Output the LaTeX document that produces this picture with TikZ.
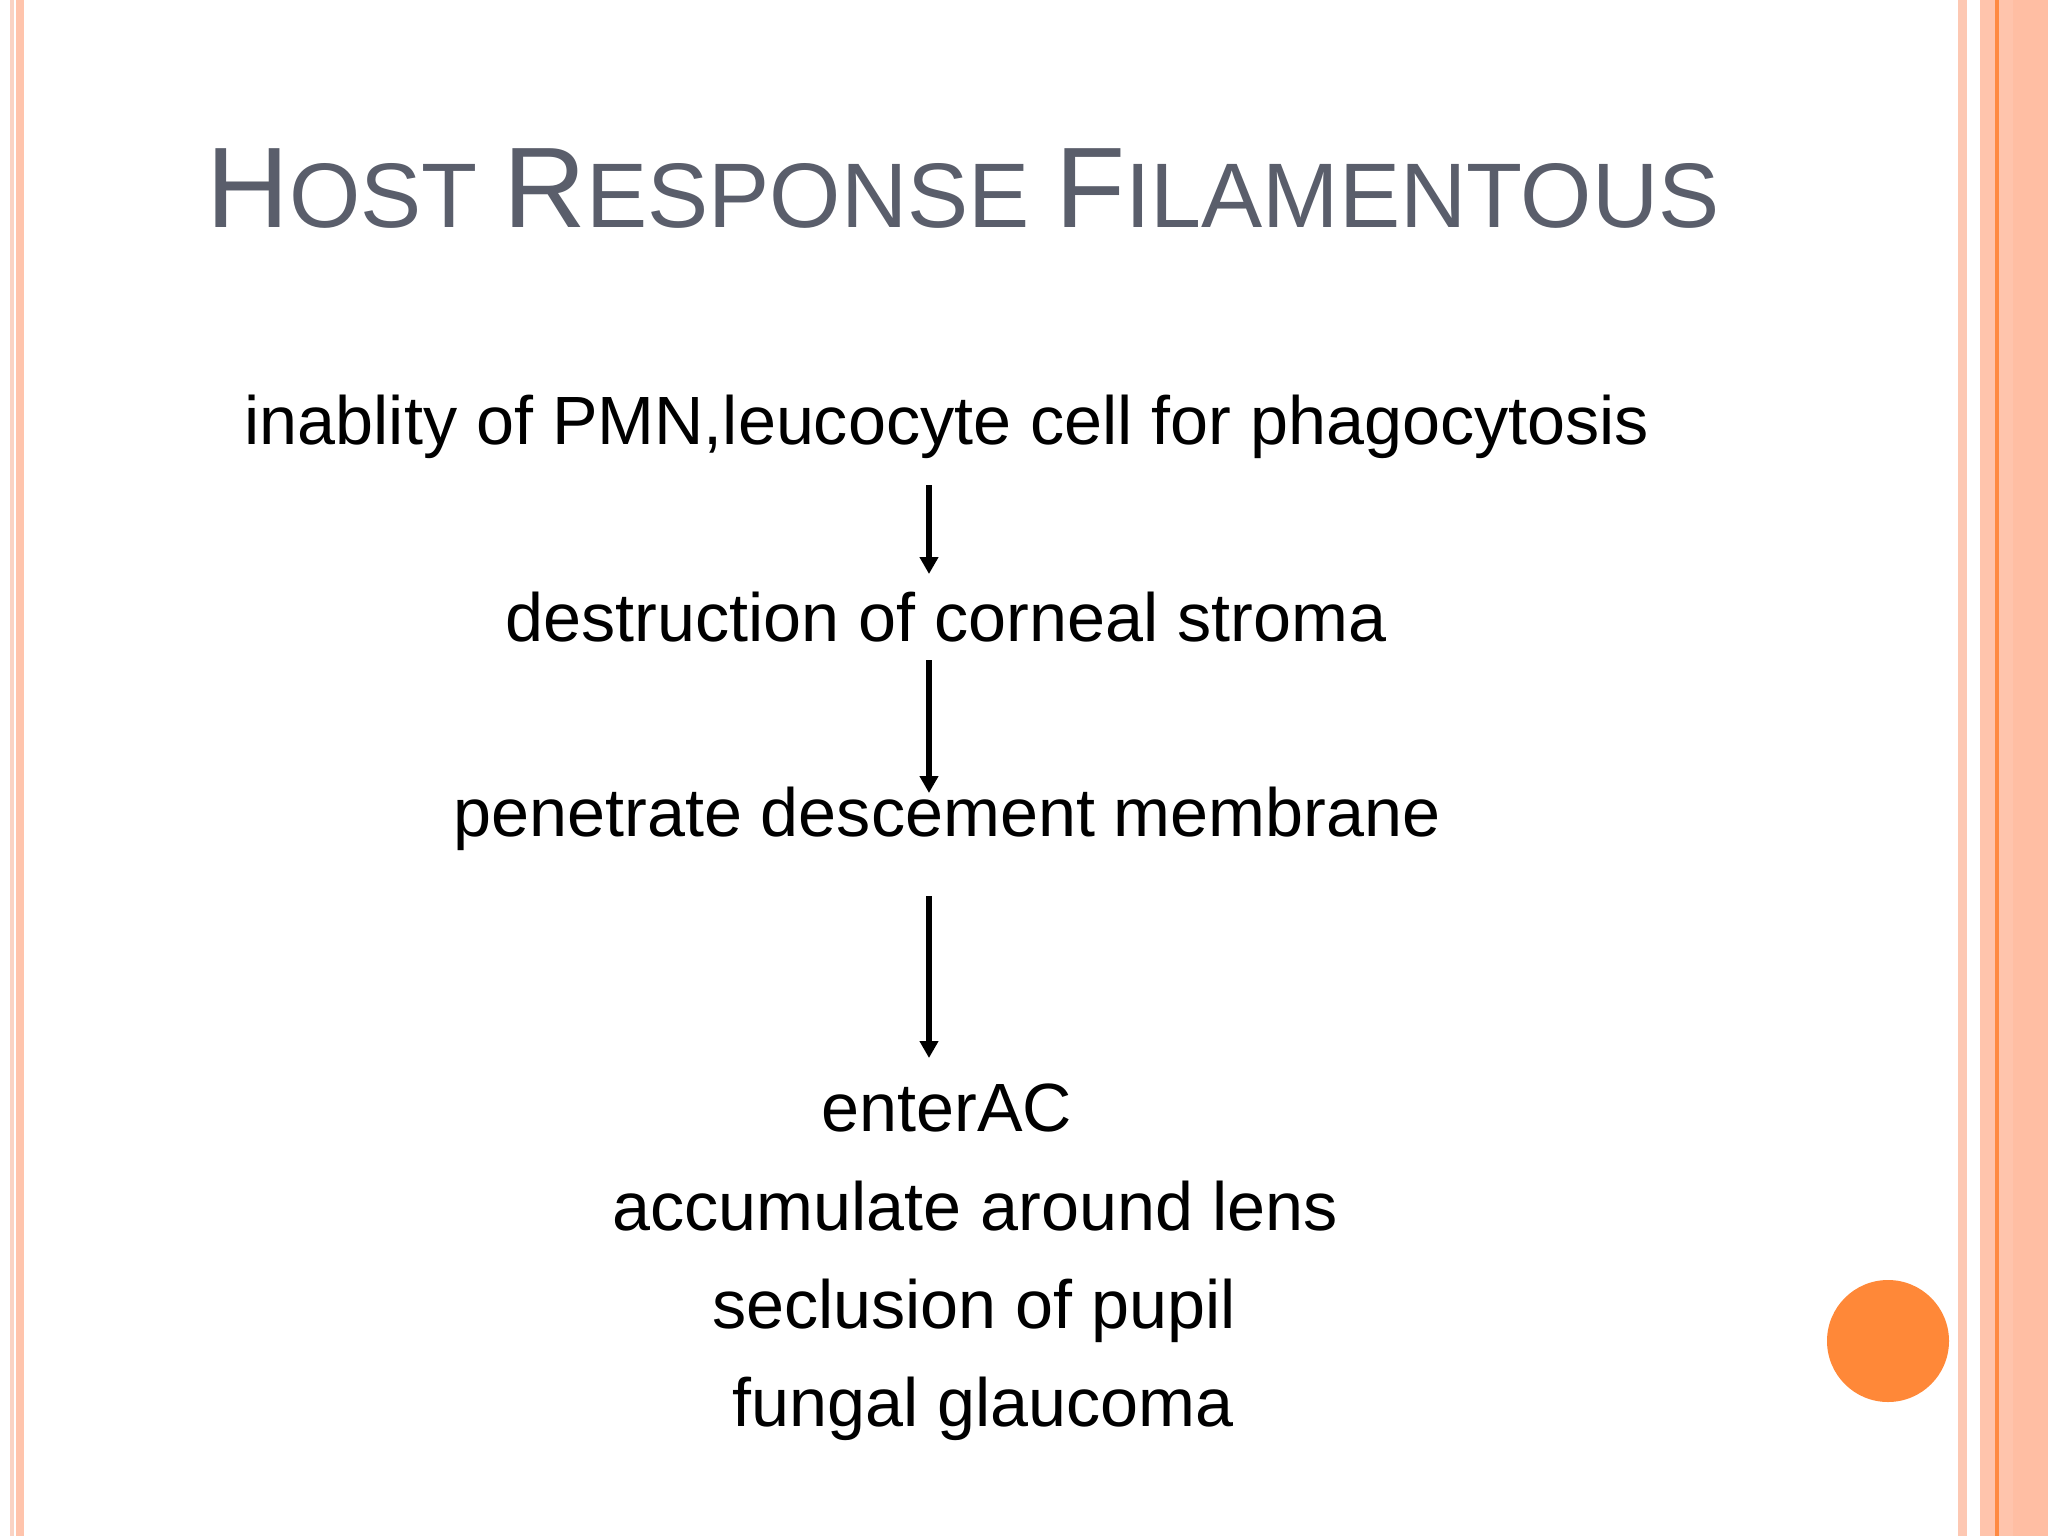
\documentclass[tikz,border=0pt]{standalone}
\usepackage{fontspec}
\setmainfont{Liberation Sans}
\usetikzlibrary{arrows.meta}
\definecolor{titlegray}{RGB}{90,94,107}
\definecolor{peachA}{RGB}{250,211,196}
\definecolor{peachB}{RGB}{255,196,172}
\definecolor{peachC}{RGB}{253,200,179}
\definecolor{peachD}{RGB}{255,190,163}
\definecolor{orangeline}{RGB}{255,138,66}
\definecolor{dotorange}{RGB}{255,136,56}
\newcommand{\ttlbig}[1]{{\fontsize{114.6}{120}\selectfont #1}}
\newcommand{\ttlsmall}[1]{{\fontsize{91.7}{100}\selectfont #1}}
\begin{document}
\begin{tikzpicture}[x=1pt,y=-1pt,
  body/.style={font=\fontsize{68.3}{80}\selectfont, inner sep=0pt, anchor=base, text=black},
  arr/.style={line width=5.5pt, -{Triangle[width=18pt,length=17pt]}}]
\useasboundingbox (0,0) rectangle (2048,1536);
\fill[white] (0,0) rectangle (2048,1536);
% borders
\fill[peachA] (10,0) rectangle (13.5,1536);
\fill[peachB] (16,0) rectangle (24,1536);
\fill[peachC] (1958,0) rectangle (1967,1536);
\fill[peachB] (1980,0) rectangle (2048,1536);
\fill[peachD] (2013,0) rectangle (2048,1536);
\fill[orangeline] (1995,0) rectangle (1999,1536);
\fill[dotorange] (1888,1341) circle (61pt);
% title
\node[anchor=base west, inner sep=0pt, text=titlegray] (title) at (206.5,227)
  {\ttlbig{H}\ttlsmall{OST }\ttlbig{R}\ttlsmall{ESPONSE }\ttlbig{F}\ttlsmall{ILAMENTOUS}};
% body
\node[body] (t1) at (947,444) {inablity of PMN,leucocyte cell for phagocytosis};
\node[body] (t2) at (946,641) {destruction of corneal stroma};
\node[body] (t3) at (947,836) {penetrate descement membrane};
\node[body] (t4) at (947,1131) {enterAC};
\node[body] (t5) at (975,1230) {accumulate around lens};
\node[body] (t6) at (974,1328) {seclusion of pupil};
\node[body] (t7) at (983,1426) {fungal glaucoma};
% arrows
\coordinate (a1s) at (929,485);
\coordinate (a1e) at (929,574);
\coordinate (a2s) at (929,660);
\coordinate (a2e) at (929,793);
\coordinate (a3s) at (929,896);
\coordinate (a3e) at (929,1058);
\draw[arr] (a1s) -- (a1e);
\draw[arr] (a2s) -- (a2e);
\draw[arr] (a3s) -- (a3e);
\end{tikzpicture}
\end{document}
